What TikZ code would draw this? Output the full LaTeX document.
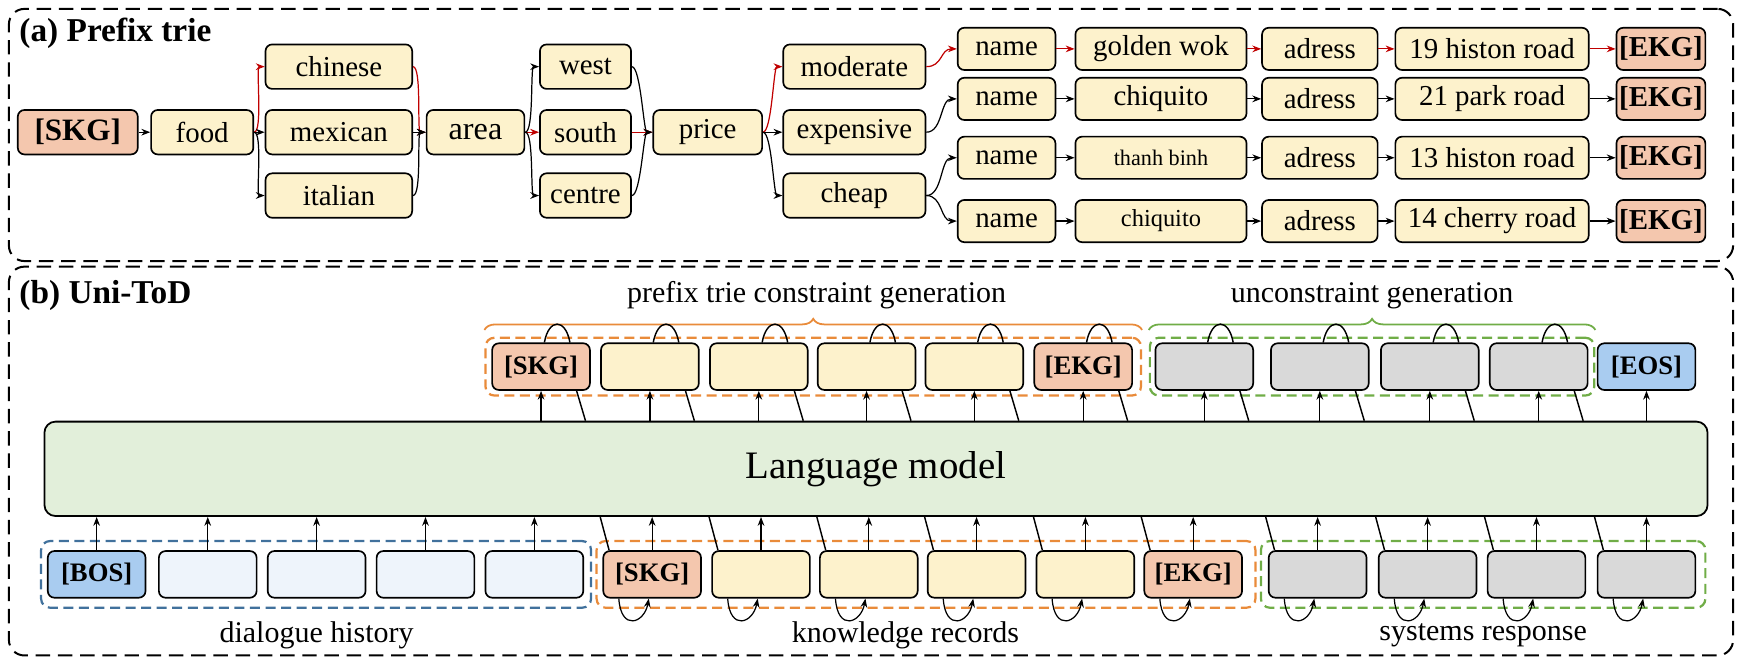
\documentclass[tikz,border=0pt]{standalone}
\usepackage{fontspec}
\setmainfont{Liberation Serif}
\usetikzlibrary{arrows.meta,calc,decorations.pathreplacing}
\definecolor{yel}{HTML}{FDF2CC}
\definecolor{sal}{HTML}{F4C7AE}
\definecolor{bos}{HTML}{A9CCF0}
\definecolor{dlg}{HTML}{EEF4FB}
\definecolor{gry}{HTML}{D9D9D9}
\definecolor{lmc}{HTML}{E2EFDA}
\definecolor{org}{HTML}{E98B3A}
\definecolor{grn}{HTML}{70AD47}
\definecolor{blu}{HTML}{41719C}
\definecolor{red}{HTML}{C00000}
\tikzset{
 box/.style={draw,line width=1.5pt,rounded corners=6pt,fill=yel,minimum height=40pt,inner sep=0pt,font=\fontsize{26}{28}\selectfont},
 sbox/.style={box,minimum height=38pt},
 tag/.style={box,fill=sal,font=\fontsize{26}{28}\selectfont\bfseries},
 tok/.style={draw,line width=1.5pt,rounded corners=6pt,minimum width=88pt,minimum height=42pt,inner sep=0pt,font=\fontsize{24}{26}\selectfont\bfseries},
 ar/.style={line width=1.1pt,-{Stealth[length=8pt,width=6pt]}},
 rar/.style={ar,draw=red},
 ln/.style={line width=1.3pt},
 sc/.style={to path={.. controls +(#1,0) and +(-#1,0) .. (\tikztotarget)}},
 sc/.default=8,
 panel/.style={draw,line width=1.8pt,dash pattern=on 13pt off 7pt,rounded corners=14pt},
 grp/.style={draw,line width=2pt,dash pattern=on 9pt off 5pt,rounded corners=8pt},
 lbl/.style={font=\fontsize{27}{30}\selectfont},
 brc/.style={decorate,decoration={brace,amplitude=10pt},line width=1.6pt},
}
\begin{document}
\begin{tikzpicture}[x=1pt,y=1pt]
\useasboundingbox (0,0) rectangle (1568,-600);
\node[panel,minimum width=1552pt,minimum height=227pt] (pa) at (784,-121.5) {};
\node[panel,minimum width=1552pt,minimum height=350pt] (pb) at (784,-415) {};
\node[anchor=west,font=\fontsize{30}{32}\selectfont\bfseries] (ta) at (14,-30) {(a) Prefix trie};
\node[anchor=west,font=\fontsize{30}{32}\selectfont\bfseries] (tb) at (14,-266) {(b) Uni-ToD};
% panel a
\node[tag,minimum width=108pt,font=\fontsize{28}{30}\selectfont\bfseries] (skg) at (70,-119) {[SKG]};
\node[box,minimum width=92pt] (food) at (182,-119) {food};
\node[box,minimum width=132pt] (chi) at (305,-60) {chinese};
\node[box,minimum width=132pt] (mex) at (305,-119) {mexican};
\node[box,minimum width=132pt] (ita) at (305,-176) {italian};
\node[box,minimum width=88pt,font=\fontsize{29}{30}\selectfont] (area) at (428,-119) {area};
\node[box,minimum width=82pt] (west) at (527,-60) {west};
\node[box,minimum width=82pt] (south) at (527,-119) {south};
\node[box,minimum width=82pt] (cen) at (527,-176) {centre};
\node[box,minimum width=98pt] (price) at (637,-119) {price};
\node[box,minimum width=128pt] (mod) at (769,-60) {moderate};
\node[box,minimum width=128pt] (exp) at (769,-119) {expensive};
\node[box,minimum width=128pt] (chp) at (769,-176) {cheap};
\foreach \i/\y/\r/\s/\f in {1/44/golden wok/19 histon road/26,2/89/chiquito/21 park road/26,3/142/thanh binh/13 histon road/20,4/199/chiquito/14 cherry road/22}{
 \node[sbox,minimum width=88pt] (n\i) at (906,-\y) {name};
 \node[sbox,minimum width=154pt,font=\fontsize{\f}{26}\selectfont] (r\i) at (1045,-\y) {\r};
 \node[sbox,minimum width=104pt] (a\i) at (1188,-\y) {adress};
 \node[sbox,minimum width=174pt] (s\i) at (1343,-\y) {\s};
 \node[tag,minimum height=38pt,minimum width=80pt] (e\i) at (1495,-\y) {[EKG]};
}
\draw[ar] (skg) -- (food);
\draw[rar] (food.east) to[sc] (chi.west);
\draw[ar] (food) -- (mex);
\draw[ar] (food.east) to[sc] (ita.west);
\draw[rar] (chi.east) to[sc] (area.west);
\draw[ar] (mex) -- (area);
\draw[ar] (ita.east) to[sc] (area.west);
\draw[ar] (area.east) to[sc] (west.west);
\draw[rar] (area) -- (south);
\draw[ar] (area.east) to[sc] (cen.west);
\draw[ar] (west.east) to[sc] (price.west);
\draw[rar] (south) -- (price);
\draw[ar] (cen.east) to[sc] (price.west);
\draw[rar] (price.east) to[sc] (mod.west);
\draw[ar] (price) -- (exp);
\draw[ar] (price.east) to[sc] (chp.west);
\draw[rar] (mod.east) to[sc=15] (n1.west);
\draw[ar] (exp.east) to[sc=15] (n2.west);
\draw[ar] (chp.east) to[sc=15] (n3.west);
\draw[ar] (chp.east) to[sc=15] (n4.west);
\draw[rar] (n1) -- (r1); \draw[rar] (r1) -- (a1); \draw[rar] (a1) -- (s1); \draw[rar] (s1) -- (e1);
\foreach \i in {2,3,4}{\draw[ar] (n\i) -- (r\i); \draw[ar] (r\i) -- (a\i); \draw[ar] (a\i) -- (s\i); \draw[ar] (s\i) -- (e\i);}
% panel b
\node[draw,line width=1.6pt,rounded corners=10pt,fill=lmc,minimum width=1497pt,minimum height=85pt,font=\fontsize{35}{40}\selectfont] (lm) at (788.5,-422) {Language model};
\node[grp,draw=org,minimum width=590pt,minimum height=52pt] (gto) at (732,-330) {};
\node[grp,draw=grn,minimum width=400pt,minimum height=52pt] (gtg) at (1235,-330) {};
\node[grp,draw=blu,minimum width=495pt,minimum height=60pt] (gbb) at (284.5,-517) {};
\node[grp,draw=org,minimum width=593pt,minimum height=60pt] (gbo) at (833.5,-517) {};
\node[grp,draw=grn,minimum width=400pt,minimum height=60pt] (gbg) at (1335,-517) {};
\draw[brc,draw=org] ($(gto.north west)+(0,6)$) -- ($(gto.north east)+(0,6)$);
\draw[brc,draw=grn] ($(gtg.north west)+(0,6)$) -- ($(gtg.north east)+(0,6)$);
\node[lbl] (lpo) at (735,-266) {prefix trie constraint generation};
\node[lbl] (lpg) at (1235,-266) {unconstraint generation};
\node[lbl] (ldh) at (285,-572) {dialogue history};
\node[lbl] (lkr) at (815,-572) {knowledge records};
\node[lbl] (lsr) at (1335,-572) {systems response};
\foreach \n/\x/\c/\t in {1/487/sal/[SKG],2/585/yel/,3/683/yel/,4/780/yel/,5/877/yel/,6/975/sal/[EKG],7/1084/gry/,8/1188/gry/,9/1287/gry/,10/1385/gry/}{
 \node[tok,fill=\c] (t\n) at (\x,-330) {\t};
 \draw[ar] (lm.north -| t\n) -- (t\n.south);
 \draw[ln] ($(t\n.south)+(32,0)$) -- ($(lm.north -| t\n)+(40,0)$);
 \draw[ln] ($(t\n.north)+(3,0)$) .. controls +(4,22) and +(-4,22) .. ($(t\n.north)+(26,0)$);
}
\node[tok,fill=bos] (t11) at (1482,-330) {[EOS]};
\draw[ar] (lm.north -| t11) -- (t11.south);
\foreach \n/\x/\c/\t in {1/87/bos/[BOS],2/187/dlg/,3/285/dlg/,4/383/dlg/,5/481/dlg/}{
 \node[tok,fill=\c] (b\n) at (\x,-517) {\t};
 \draw[ar] (b\n.north) -- (lm.south -| b\n);
}
\foreach \n/\x/\c/\t in {6/587/sal/[SKG],7/685/yel/,8/782/yel/,9/879/yel/,10/977/yel/,11/1074/sal/[EKG],12/1186/gry/,13/1285/gry/,14/1383/gry/,15/1482/gry/}{
 \node[tok,fill=\c] (b\n) at (\x,-517) {\t};
 \draw[ar] (b\n.north) -- (lm.south -| b\n);
 \draw[ln] ($(lm.south -| b\n.west)+(-2,0)$) -- ($(b\n.north west)+(6,0)$);
 \draw[ar] ($(b\n.south)+(-30,0)$) .. controls +(2,-30) and +(-4,-22) .. ($(b\n.south)+(-3,0)$);
}
\end{tikzpicture}
\end{document}
